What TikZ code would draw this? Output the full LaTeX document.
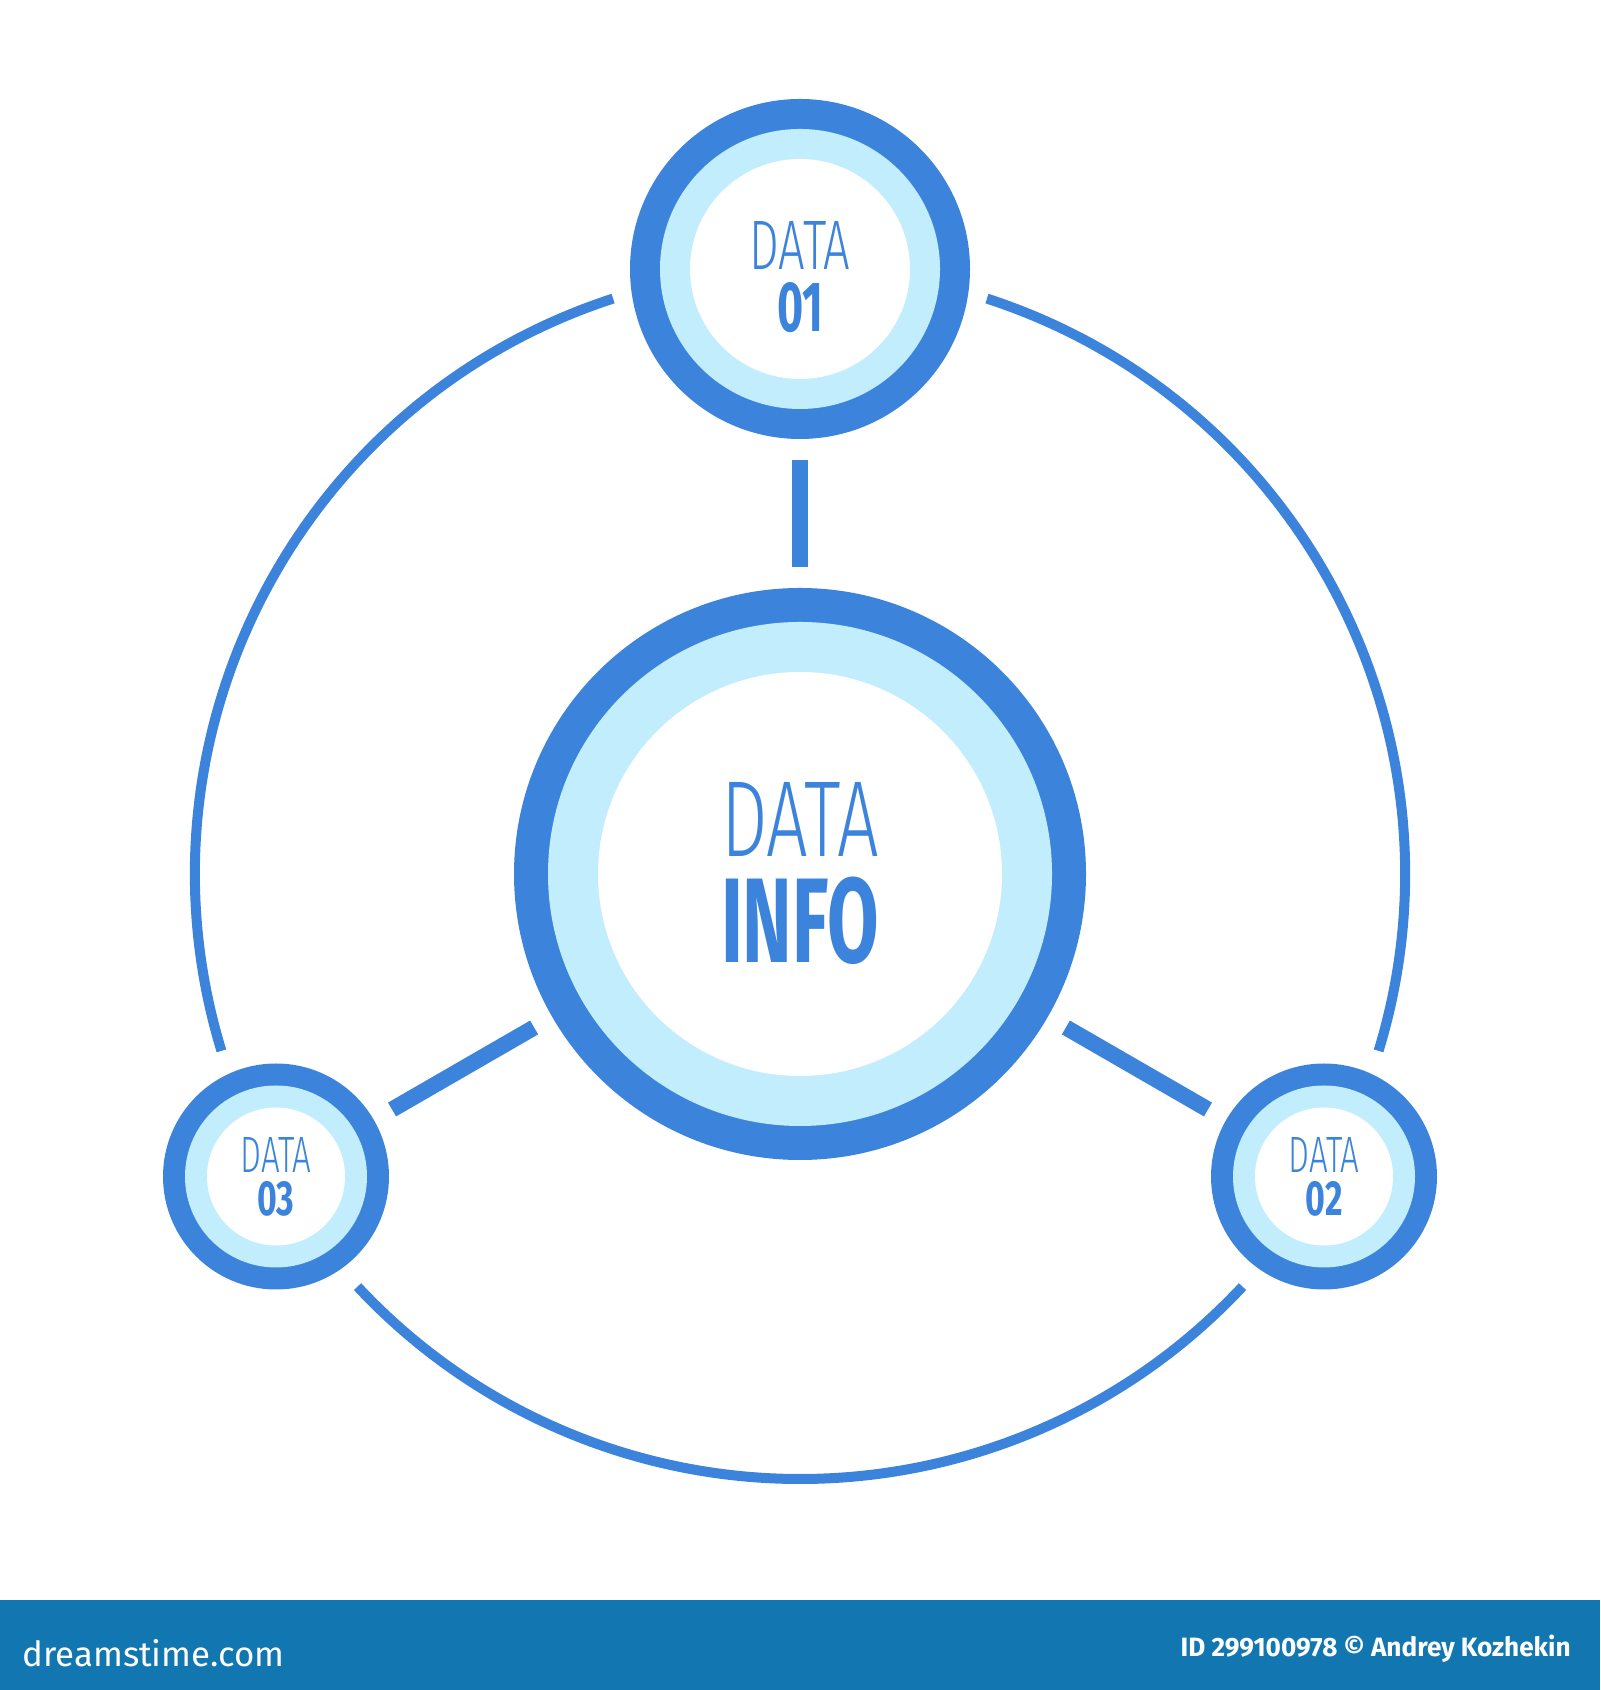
\documentclass[tikz,border=0pt]{standalone}
\usepackage{fontspec}
\usepackage{graphicx}
\newfontfamily\lightf{Fira Sans Light}
\newfontfamily\firaf{Fira Sans}
\definecolor{dblue}{HTML}{3C84DB}
\definecolor{lblue}{HTML}{C2EDFC}
\definecolor{bannerblue}{HTML}{1277B0}
\tikzset{
  ringline/.style={draw=dblue, line width=5pt, line cap=butt},
  spoke/.style={draw=dblue, line width=8pt, line cap=butt, shorten <=10.5pt, shorten >=10.5pt},
  holder/.style={circle, inner sep=0pt, outer sep=0pt, draw=none},
  txt/.style={inner sep=0pt, outer sep=0pt, text=dblue}
}
\newcommand\bubble[6]{% name, x, y, R, R2, R3
  \fill[dblue] (#2,#3) circle[radius=#4];
  \fill[lblue] (#2,#3) circle[radius=#5];
  \fill[white] (#2,#3) circle[radius=#6];
  \node[holder, minimum size=#4 pt] (#1) at (#2,#3) {};
}
\begin{document}
\begin{tikzpicture}[x=0.5pt,y=0.5pt]
\useasboundingbox (0,0) rectangle (1600,1690);
\fill[white] (0,0) rectangle (1600,1690);
\fill[bannerblue] (0,0) rectangle (1600,90);

\coordinate (o) at (800,816);

% big ring arcs
\draw[ringline] ([shift={(108:605)}]o) arc[start angle=108, end angle=197, radius=605];
\draw[ringline] ([shift={(223:605)}]o) arc[start angle=223, end angle=317, radius=605];
\draw[ringline] ([shift={(-17:605)}]o) arc[start angle=-17, end angle=72, radius=605];

% bubbles
\bubble{top}{800}{1421}{170}{140}{110}
\bubble{mid}{800}{816}{286}{252}{202}
\bubble{left}{276}{513.5}{113}{91}{69}
\bubble{right}{1324}{513.5}{113}{91}{69}

% spokes
\draw[spoke] (mid) -- (top);
\draw[spoke] (mid) -- (left);
\draw[spoke] (mid) -- (right);

% texts
\node[txt] (topa) at (800,1444) {\resizebox{50.5pt}{24pt}{\lightf DATA}};
\node[txt] (topb) at (800,1382.5) {\resizebox{23pt}{24.5pt}{\firaf\bfseries 01}};
\node[txt] (mida) at (800,870) {\resizebox{79pt}{37pt}{\lightf DATA}};
\node[txt] (midb) at (800,769) {\resizebox{79pt}{42.75pt}{\firaf\bfseries INFO}};
\node[txt] (lefta) at (276,534.5) {\resizebox{35.5pt}{17.5pt}{\lightf DATA}};
\node[txt] (leftb) at (276,491) {\resizebox{18.5pt}{17pt}{\firaf\bfseries 03}};
\node[txt] (righta) at (1324,534.5) {\resizebox{35.5pt}{17.5pt}{\lightf DATA}};
\node[txt] (rightb) at (1324,491) {\resizebox{18.5pt}{17pt}{\firaf\bfseries 02}};

% banner texts
\node[inner sep=0pt, text=white, anchor=base west] (logo) at (22,24) {\resizebox{131pt}{13.5pt}{\firaf dreamstime.com}};
\node[inner sep=0pt, text=white, anchor=base east] (credit) at (1571,33) {\resizebox{195pt}{10.75pt}{\firaf\bfseries ID 299100978 © Andrey Kozhekin}};
\end{tikzpicture}
\end{document}
